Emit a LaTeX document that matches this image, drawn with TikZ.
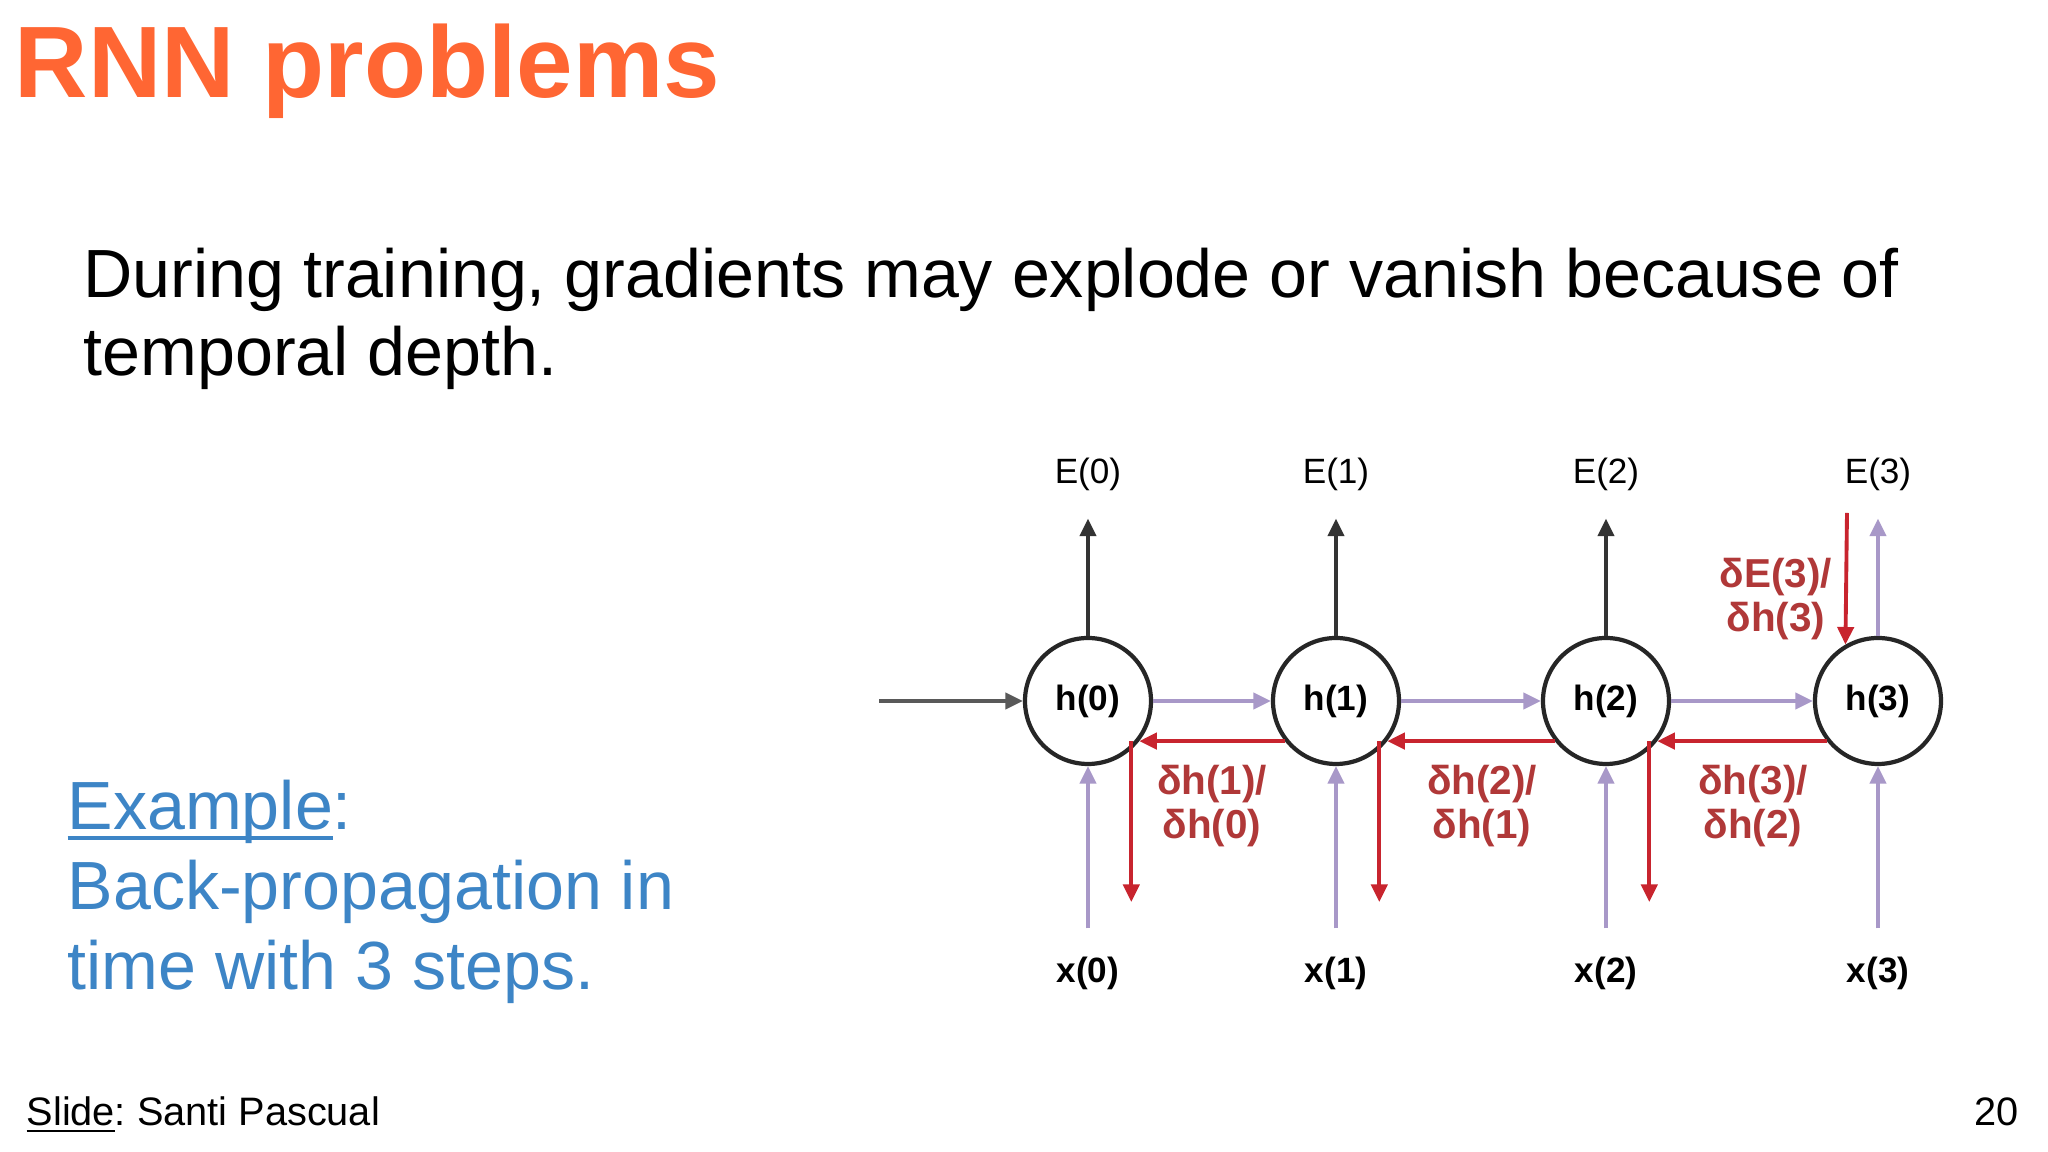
\documentclass[tikz,border=0pt]{standalone}
\usepackage{fontspec}
\setmainfont{Liberation Sans}
\usetikzlibrary{arrows.meta}
\definecolor{titleorange}{RGB}{255,102,51}
\definecolor{slideblue}{RGB}{61,133,198}
\definecolor{fwdpurple}{RGB}{168,152,200}
\definecolor{gradred}{RGB}{200,36,46}
\definecolor{gradtext}{RGB}{176,56,56}
\newcommand{\ulword}[1]{\setbox0=\hbox{#1}\rlap{\rule[-0.15em]{\wd0}{0.06em}}#1}
\frenchspacing
\tikzstyle{every node} = [align = center]
\tikzset{
    > = {Triangle[length = 5pt, width = 4.6pt]},
    slidetext/.style = {anchor = base west, align = left, inner sep = 0pt},
    state/.style = {circle, draw = black!85, line width = 1.2pt, minimum size = 1.26cm, inner sep = 0pt, font = \bfseries\fontsize{10}{12}\selectfont},
    err/.style = {font = \fontsize{10}{12}\selectfont},
    inp/.style = {font = \bfseries\fontsize{10}{12}\selectfont},
    grad/.style = {text = gradtext, font = \bfseries\fontsize{11.5}{12.5}\selectfont},
    fwdarrow/.style = {->, fwdpurple, line width = 1.1pt},
    gradarrow/.style = {->, gradred, line width = 1.1pt},
    errarrow/.style = {->, black!80, line width = 1.1pt}
}

\begin{document}
\begin{tikzpicture}
    \fill [white] (0, 0) rectangle (20.48, 11.52);
    \useasboundingbox (0, 0) rectangle (20.48, 11.52);
    % slide text
    \node [slidetext, text = titleorange, font = \bfseries\fontsize{28.9}{34}\selectfont] (title) at (0.14, 10.54) {RNN problems};
    \node [slidetext, font = \fontsize{19.4}{22.2}\selectfont] (intro) at (0.83, 7.76) {During training, gradients may explode or vanish because of\\temporal depth.};
    \node [slidetext, text = slideblue, font = \fontsize{19.4}{22.8}\selectfont] (example) at (0.67, 1.62) {\ulword{Example}:\\Back-propagation in\\time with 3 steps.};
    \node [slidetext, font = \fontsize{11.3}{14}\selectfont] (credit) at (0.26, 0.26) {\ulword{Slide}: Santi Pascual};
    \node [anchor = base east, inner sep = 0pt, font = \fontsize{11.3}{14}\selectfont] (page) at (20.19, 0.26) {20};
    % unrolled network
    \node [state] (h0) at (10.88, 4.51) {h(0)};
    \node [state] (h1) at (13.36, 4.51) {h(1)};
    \node [state] (h2) at (16.06, 4.51) {h(2)};
    \node [state] (h3) at (18.78, 4.51) {h(3)};
    \node [err] (e0) at (10.88, 6.78) {E(0)};
    \node [err] (e1) at (13.36, 6.78) {E(1)};
    \node [err] (e2) at (16.06, 6.78) {E(2)};
    \node [err] (e3) at (18.78, 6.78) {E(3)};
    \node [inp] (x0) at (10.88, 1.79) {x(0)};
    \node [inp] (x1) at (13.36, 1.79) {x(1)};
    \node [inp] (x2) at (16.06, 1.79) {x(2)};
    \node [inp] (x3) at (18.78, 1.79) {x(3)};
    \coordinate (start) at (8.79, 4.51);
    \draw [->, black!65, line width = 1.1pt] (start) -- (h0);
    % forward pass
    \draw [errarrow, shorten > = 4.5pt] (h0) -- (e0);
    \draw [errarrow, shorten > = 4.5pt] (h1) -- (e1);
    \draw [errarrow, shorten > = 4.5pt] (h2) -- (e2);
    \draw [fwdarrow, shorten > = 4.5pt] (h3) -- (e3);
    \draw [fwdarrow, shorten < = 4.5pt] (x0) -- (h0);
    \draw [fwdarrow, shorten < = 4.5pt] (x1) -- (h1);
    \draw [fwdarrow, shorten < = 4.5pt] (x2) -- (h2);
    \draw [fwdarrow, shorten < = 4.5pt] (x3) -- (h3);
    \draw [fwdarrow] (h0) -- (h1);
    \draw [fwdarrow] (h1) -- (h2);
    \draw [fwdarrow] (h2) -- (h3);
    % gradients flowing back
    \coordinate (de3) at (18.47, 6.39);
    \draw [gradarrow] (de3) -- (h3.120);
    \node [grad] (g33) at (17.76, 5.53) {δE(3)/\\δh(3)};
    \draw [gradarrow] (h3.218) -- (h2.-38);
    \draw [gradarrow] (h2.218) -- (h1.-38);
    \draw [gradarrow] (h1.218) -- (h0.-38);
    \path ([xshift = -0.8mm]h0.-38) coordinate (t0) ++(0, -1.61) coordinate (d0);
    \path ([xshift = -0.8mm]h1.-38) coordinate (t1) ++(0, -1.61) coordinate (d1);
    \path ([xshift = -0.8mm]h2.-38) coordinate (t2) ++(0, -1.61) coordinate (d2);
    \draw [gradarrow] (t0) -- (d0);
    \draw [gradarrow] (t1) -- (d1);
    \draw [gradarrow] (t2) -- (d2);
    \node [grad] (g10) at (12.12, 3.46) {δh(1)/\\δh(0)};
    \node [grad] (g21) at (14.82, 3.46) {δh(2)/\\δh(1)};
    \node [grad] (g32) at (17.53, 3.46) {δh(3)/\\δh(2)};
\end{tikzpicture}
\end{document}
